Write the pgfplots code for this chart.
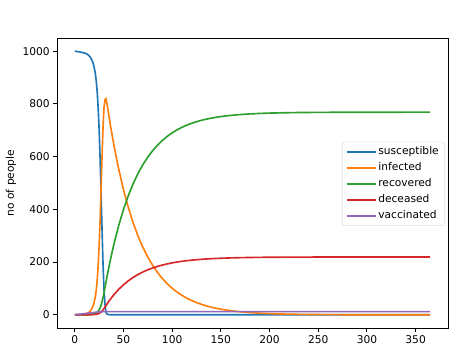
\documentclass[border=0pt]{standalone}
\usepackage{fontspec}
\setmainfont{DejaVu Sans}
\usepackage{pgfplots}
\pgfplotsset{compat=1.18}
\usepackage{pgfplotstable}
\definecolor{c0}{HTML}{1F77B4}
\definecolor{c1}{HTML}{FF7F0E}
\definecolor{c2}{HTML}{2CA02C}
\definecolor{c3}{HTML}{D62728}
\definecolor{c4}{HTML}{9467BD}

\pgfplotstableread{
t S I R D V
0 1000 0.1 0 0 0
5 997.2 0.5 0.03 0.01 2.25
10 993.1 2.2 0.16 0.05 4.5
12 990.1 4.1 0.31 0.09 5.4
14 985.3 7.7 0.59 0.17 6.3
16 977.1 14.3 1.10 0.32 7.2
18 962.8 26.5 2.05 0.59 8.1
19 951.7 36.1 2.80 0.80 8.55
20 936.8 49.3 3.81 1.09 9.0
21 918 66 5.2 1.5 9.45
22 889 92 7.1 2.0 9.9
23 847 130 9.8 2.8 10.35
24 787 185 13.6 3.9 10.8
25 704 260 19.0 5.4 11.2
26 594.5 360 26.5 7.5 11.5
27 461 480 36.6 10.4 11.7
28 324 600 49.6 14.1 11.85
29 194 710 65.4 18.6 11.95
30 96 785 83.4 23.8 12
31 41 815 102.7 29.3 12
32 10.7 820 122.4 34.9 12
33 3 802 142.0 40.5 12
34 1.5 779.5 161.0 46.0 12
35 0.7 756 179.4 51.2 12
36 0.5 733 198.0 56.5 12
37 0.4 710.9 215.3 61.4 12
38 0.3 689.3 232.2 66.2 12
40 0.1 647.4 264.9 75.6 12
45 0 554.5 337.3 96.2 12
50 0 474.9 399.2 113.9 12
55 0 406.7 452.2 129.0 12
60 0 348.3 497.7 142.0 12
65 0 298.3 536.6 153.1 12
70 0 255.5 569.9 162.6 12
75 0 218.8 598.4 170.8 12
80 0 187.4 622.9 177.7 12
85 0 160.5 643.8 183.7 12
90 0 137.4 661.8 188.8 12
95 0 117.7 677.1 193.2 12
100 0 100.8 690.2 197.0 12
105 0 86.3 701.5 200.2 12
110 0 73.9 711.2 202.9 12
115 0 63.3 719.4 205.3 12
120 0 54.2 726.5 207.3 12
125 0 46.4 732.6 209.0 12
130 0 39.8 737.7 210.5 12
135 0 34.1 742.1 211.8 12
140 0 29.2 745.9 212.9 12
145 0 25.0 749.2 213.8 12
150 0 21.4 752.0 214.6 12
160 0 15.7 756.4 215.9 12
170 0 11.5 759.7 216.8 12
180 0 8.4 762.1 217.5 12
190 0 6.2 763.8 218.0 12
200 0 4.5 765.2 218.3 12
215 0 2.9 766.4 218.7 12
230 0 1.8 767.3 218.9 12
250 0 1.0 767.9 219.1 12
275 0 0.44 768.3 219.2 12
300 0 0.2 768.5 219.3 12
330 0 0.08 768.6 219.3 12
365 0 0.03 768.7 219.3 12
}\sird

\begin{document}
\begin{tikzpicture}
\begin{axis}[
  scale only axis, width=391bp, height=290bp,
  xmin=-18.25, xmax=383.25, ymin=-50, ymax=1050,
  xtick={0,50,...,350}, ytick={0,200,...,1000},
  xtick pos=left, ytick pos=left,
  tick align=outside, major tick length=3.8bp,
  tick style={black, line width=0.87bp},
  axis line style={line width=0.87bp},
  font=\fontsize{10.7}{12.8}\selectfont,
  tick label style={font=\fontsize{10.7}{12.8}\selectfont},
  /pgf/number format/assume math mode=true,
  /pgf/number format/1000 sep={},
  ylabel={no of people},
  every axis y label/.style={at={(rel axis cs:0,0.5)}, xshift=-46bp, rotate=90, anchor=center},
  legend style={at={(0.991,0.642)}, anchor=north east, draw=black!20, rounded corners=2bp,
    font=\fontsize{10.7}{12.8}\selectfont, row sep=2.5bp, inner xsep=4bp, inner ysep=3bp,
    nodes={inner sep=1.5bp, text height=8bp, text depth=2.5bp}},
  legend cell align=left,
  legend image code/.code={\draw[#1] (0bp,0bp) -- (23bp,0bp); \path (0bp,0bp) -- (29bp,0bp);},
  every axis plot/.append style={line width=1.64bp},
]
\addplot[c0, no markers] table[x=t, y=S] {\sird};
\addlegendentry{susceptible}
\addplot[c1, no markers] table[x=t, y=I] {\sird};
\addlegendentry{infected}
\addplot[c2, no markers] table[x=t, y=R] {\sird};
\addlegendentry{recovered}
\addplot[c3, no markers] table[x=t, y=D] {\sird};
\addlegendentry{deceased}
\addplot[c4, no markers] table[x=t, y=V] {\sird};
\addlegendentry{vaccinated}
\end{axis}
\pgfresetboundingbox
\path[use as bounding box] ([xshift=-57bp,yshift=-19bp]current axis.south west) rectangle ([xshift=26bp,yshift=38bp]current axis.north east);
\end{tikzpicture}
\end{document}
